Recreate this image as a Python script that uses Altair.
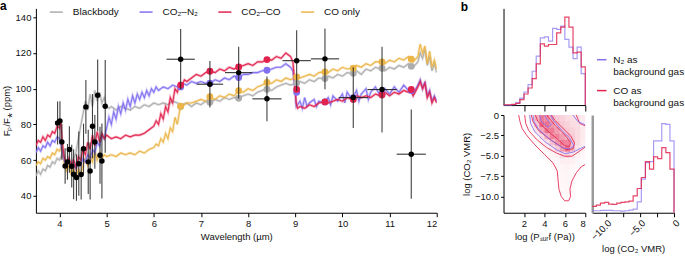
import altair as alt
import pandas as pd

FONT = "Liberation Sans"

# ---------------- panel a ----------------
MODELS = ["Blackbody", "CO₂–N₂", "CO₂–CO", "CO only"]
MODEL_COLORS = ["#adadad", "#8170f0", "#e2234e", "#ebb548"]
DRAW_ORDER = ["Blackbody", "CO only", "CO₂–N₂", "CO₂–CO"]

blackbody = [(3.50,51),(3.55,54),(3.60,52),(3.65,55),(3.70,54),(3.75,57),(3.80,56),(3.85,59),(3.90,58),(3.95,61),(4.00,60),(4.05,63),(4.10,60),(4.15,57),(4.20,61),(4.25,56),(4.30,61),(4.35,64),(4.40,72),(4.45,79),(4.50,86),(4.55,93),(4.60,88),(4.65,97),(4.70,90),(4.75,99),(4.80,93),(4.85,98),(4.90,92),(4.95,95),(5.00,90),(5.05,89),(5.10,90),(5.20,88),(5.30,90),(5.40,89),(5.50,88),(5.60,90),(5.70,89),(5.80,91),(5.90,90),(6.00,92),(6.10,91),(6.20,92),(6.30,91),(6.40,93),(6.50,92),(6.60,91),(6.70,92),(6.80,90),(6.90,92),(7.00,91),(7.10,93),(7.20,92),(7.30,94),(7.40,93),(7.50,95),(7.60,94),(7.70,95),(7.80,95),(7.90,96),(8.00,97),(8.10,96),(8.20,98),(8.30,99),(8.40,100),(8.50,99),(8.60,101),(8.70,102),(8.80,103),(8.90,102),(9.00,103),(9.10,104),(9.20,103),(9.30,105),(9.40,104),(9.50,106),(9.60,105.5),(9.70,107),(9.80,106),(9.90,108),(10.00,107),(10.10,109),(10.20,108.5),(10.30,110),(10.40,108),(10.50,111),(10.60,110),(10.70,112),(10.80,111),(10.90,110),(11.00,112),(11.10,111),(11.20,113),(11.30,112),(11.40,114),(11.50,112),(11.60,115),(11.65,120),(11.70,117),(11.75,122),(11.80,113),(11.85,118),(11.90,110),(11.95,114),(12.00,109)]

co2_n2 = [(3.50,64),(3.55,67),(3.60,65),(3.65,68),(3.70,67),(3.75,70),(3.80,68),(3.85,71),(3.90,70),(3.95,73),(4.00,72),(4.05,66),(4.10,60),(4.15,57),(4.20,60),(4.25,56),(4.30,59),(4.35,55),(4.40,58),(4.45,57),(4.50,61),(4.55,59),(4.60,63),(4.65,61),(4.70,66),(4.75,64),(4.80,70),(4.85,68),(4.90,74),(4.95,72),(5.00,78),(5.05,84),(5.10,80),(5.15,87),(5.20,83),(5.25,90),(5.30,86),(5.35,92),(5.40,88),(5.45,94),(5.50,90),(5.55,96),(5.60,92),(5.65,97),(5.70,94),(5.75,98),(5.80,95),(5.85,99),(5.90,96),(5.95,100),(6.00,98),(6.05,101),(6.10,99),(6.20,101),(6.30,100),(6.40,102),(6.50,101),(6.60,103),(6.70,102),(6.80,104),(6.90,103),(7.00,104),(7.10,103),(7.20,103),(7.30,105),(7.40,104),(7.50,106),(7.60,105),(7.70,107),(7.80,106.3),(7.90,108),(8.00,108),(8.10,109),(8.20,109),(8.30,110),(8.40,110.3),(8.50,111),(8.60,112),(8.70,112),(8.80,114),(8.85,113),(8.90,112),(8.95,110),(9.00,98),(9.02,90),(9.05,91),(9.10,93),(9.15,89),(9.20,95),(9.25,90),(9.30,92),(9.40,94),(9.45,90),(9.50,93),(9.60,92),(9.70,95),(9.75,91),(9.80,96),(9.90,93),(10.00,97),(10.05,92),(10.10,98),(10.20,94),(10.30,99),(10.35,93),(10.40,97),(10.50,100),(10.55,94),(10.60,98),(10.70,101),(10.80,96),(10.90,100),(11.00,97),(11.10,101),(11.20,98),(11.30,102),(11.40,99),(11.50,97),(11.60,102),(11.65,105),(11.70,100),(11.75,104),(11.80,96),(11.85,99),(11.90,93),(11.95,96),(12.00,93)]

co2_co = [(3.50,68),(3.55,71),(3.60,70),(3.65,73),(3.70,71),(3.75,74),(3.80,73),(3.85,76),(3.90,75),(3.95,79),(4.00,78),(4.03,81),(4.06,70),(4.10,62),(4.15,58),(4.20,61),(4.25,57),(4.30,60),(4.35,56),(4.40,62),(4.45,60),(4.50,66),(4.55,63),(4.60,70),(4.65,66),(4.70,74),(4.75,68),(4.80,76),(4.85,70),(4.90,75),(4.95,72),(5.00,74),(5.10,72),(5.20,73),(5.30,72),(5.40,74),(5.50,73),(5.60,74),(5.70,74),(5.80,75),(5.90,77),(6.00,79),(6.05,82),(6.10,80),(6.15,86),(6.20,83),(6.25,90),(6.30,87),(6.35,95),(6.40,92),(6.45,100),(6.50,98),(6.55,103),(6.60,102),(6.65,105),(6.70,104),(6.80,106),(6.90,108),(7.00,107),(7.10,109),(7.20,109.8),(7.30,109),(7.40,111),(7.50,110),(7.60,112),(7.70,111),(7.80,112.2),(7.90,113),(8.00,114),(8.10,113),(8.20,115),(8.30,115),(8.40,116.3),(8.50,116),(8.60,118),(8.70,117),(8.80,120),(8.85,119),(8.90,118),(8.95,115),(9.00,100),(9.02,92),(9.05,89),(9.10,90),(9.20,89),(9.30,91),(9.40,90),(9.50,92),(9.60,92.6),(9.70,92),(9.80,93),(9.90,94),(10.00,93),(10.10,95),(10.20,94),(10.30,96),(10.40,95),(10.50,96),(10.60,95),(10.70,97),(10.80,96),(10.90,98),(11.00,96),(11.10,98),(11.20,97),(11.30,99),(11.40,98),(11.45,99.5),(11.50,96),(11.60,101),(11.65,104),(11.70,100),(11.75,103),(11.80,95),(11.85,98),(11.90,92),(11.95,95),(12.00,92)]

co_only = [(3.50,57),(3.55,59),(3.60,58),(3.65,61),(3.70,60),(3.75,62),(3.80,61),(3.85,64),(3.90,63),(3.95,66),(4.00,65),(4.05,68),(4.10,58),(4.15,54),(4.20,57),(4.25,52),(4.30,56),(4.35,50),(4.40,55),(4.45,52),(4.50,57),(4.55,61),(4.60,57),(4.65,63),(4.70,59),(4.75,65),(4.80,60),(4.85,64),(4.90,61),(4.95,63),(5.00,62),(5.10,63),(5.20,62),(5.30,64),(5.40,63),(5.50,64),(5.60,63),(5.70,65),(5.80,64),(5.90,66),(6.00,67),(6.05,69),(6.10,68),(6.15,72),(6.20,70),(6.25,75),(6.30,72),(6.35,78),(6.40,76),(6.45,84),(6.50,80),(6.55,88),(6.60,90),(6.65,91),(6.70,92),(6.80,92),(6.90,93),(7.00,94),(7.10,93),(7.20,95),(7.30,94),(7.40,96),(7.50,95),(7.60,97),(7.70,96),(7.80,98.5),(7.90,98),(8.00,100),(8.10,99),(8.20,101),(8.30,102),(8.40,103.5),(8.50,103),(8.60,105),(8.70,104),(8.80,106),(8.90,105),(9.00,106.5),(9.10,106),(9.20,107),(9.30,108),(9.40,107),(9.50,109),(9.60,109.4),(9.70,109),(9.80,111),(9.90,110),(10.00,112),(10.10,111),(10.20,111.4),(10.30,113),(10.40,112),(10.50,114),(10.60,113),(10.70,115),(10.80,115),(10.90,114),(11.00,116),(11.10,115),(11.20,117),(11.30,116),(11.40,118),(11.50,115),(11.60,118),(11.65,125),(11.70,120),(11.75,124),(11.80,114),(11.85,121),(11.90,112),(11.95,116),(12.00,111)]

BIN_WL = [6.57, 7.19, 7.80, 8.40, 9.03, 9.63, 10.23, 10.84, 11.46]
bin_blackbody = [90, 92.4, 94.6, 99.7, 103.2, 105.7, 108.6, 111.4, 112.5]
bin_co_only = [90.2, 95.5, 98.8, 103.5, 106.6, 109.4, 111.4, 115, 116.5]
bin_co2_n2 = [101, 103, 106.3, 110.3, 98, 92.6, 95, 97, 99]
bin_co2_co = [102, 109.8, 112.2, 116.3, 99.6, 92.6, 94, 96.5, 99.5]

OBS_WL = [3.96, 4.01, 4.05, 4.12, 4.17, 4.21, 4.26, 4.30, 4.36, 4.41, 4.46, 4.51, 4.56, 4.61, 4.65, 4.70, 4.75, 4.81, 4.86, 4.90, 4.97,
          6.57, 7.19, 7.80, 8.40, 9.03, 9.63, 10.23, 10.84, 11.46]
OBS_FP = [80.8, 81.9, 70.2, 56.7, 59.0, 65.9, 56.6, 52.1, 50.2, 58.0, 51.9, 66.4, 89.8, 59.0, 53.9, 79.0, 70.2, 96.3, 62.7, 59.5, 90.1,
          116.5, 102.5, 109.0, 94.3, 115.7, 116.7, 95.0, 99.5, 63.3]
OBS_XERR = [0] * 21 + [0.30, 0.28, 0.29, 0.31, 0.30, 0.30, 0.31, 0.31, 0.31]
OBS_YERR = [12, 11, 10, 10, 10, 13, 12, 14, 13, 18, 14, 14, 15, 18, 16, 18, 15, 20, 16, 21, 26,
            17, 13, 14.5, 12.5, 17, 17, 17, 24, 25]

# ---------------- panel b ----------------
GASES = ["N₂ as|background gas", "CO as|background gas"]
GAS_COLORS = ["#8170f0", "#e2234e"]

PSURF_EDGES = [0.0, 0.4, 0.8, 1.2, 1.6, 2.0, 2.4, 2.8, 3.2, 3.6, 4.0, 4.4, 4.8, 5.2, 5.6, 6.0, 6.4, 6.8, 7.2, 7.6, 8.0]
psurf_n2 = [0, 0, 1, 7, 21, 39, 61, 101, 146, 201, 204, 191, 229, 226, 236, 196, 173, 139, 173, 94]
psurf_co = [1, 1, 2, 5, 16, 33, 51, 79, 123, 183, 176, 181, 181, 216, 233, 263, 233, 156, 158, 114]

VMR_EDGES = [-12.0, -11.4, -10.8, -10.2, -9.6, -9.0, -8.4, -7.8, -7.2, -6.6, -6.0, -5.4, -4.8, -4.2, -3.6, -3.0, -2.4, -1.8, -1.2, -0.6, 0.0]
vmr_n2 = [6, 6, 7, 7, 7, 6, 6, 5, 6, 8, 11, 33, 101, 151, 154, 216, 216, 268, 266, 216]
vmr_co = [19, 23, 29, 31, 26, 25, 29, 31, 33, 35, 51, 73, 106, 154, 131, 168, 163, 196, 181, 131]

HEAT_X0 = [0.0, 0.5, 1.0, 1.5, 2.0, 2.5, 3.0, 3.5, 4.0, 4.5, 5.0, 5.5, 6.0, 6.5, 7.0, 7.5]
HEAT_Y0 = [0.0, -0.75, -1.5, -2.25, -3.0, -3.75, -4.5, -5.25, -6.0, -6.75, -7.5, -8.25, -9.0, -9.75, -10.5, -11.25]
HEAT = [
    [0, 0, 0, 0, 0.02, 0.10, 0.45, 0.75, 0.65, 0.45, 0.30, 0.25, 0.20, 0.18, 0.15, 0.12],
    [0, 0, 0, 0, 0.02, 0.08, 0.30, 0.85, 0.80, 0.60, 0.40, 0.30, 0.25, 0.20, 0.18, 0.12],
    [0, 0, 0, 0, 0, 0.05, 0.15, 0.50, 0.80, 0.75, 0.55, 0.35, 0.30, 0.25, 0.20, 0.12],
    [0, 0, 0, 0, 0, 0.02, 0.06, 0.20, 0.45, 0.70, 0.70, 0.55, 0.40, 0.30, 0.20, 0.12],
    [0, 0, 0, 0, 0, 0, 0.03, 0.08, 0.15, 0.35, 0.60, 0.75, 0.70, 0.35, 0.20, 0.10],
    [0, 0, 0, 0, 0, 0, 0, 0.04, 0.08, 0.12, 0.30, 0.55, 0.80, 0.40, 0.15, 0.08],
    [0, 0, 0, 0, 0, 0, 0, 0.02, 0.04, 0.06, 0.10, 0.20, 0.25, 0.15, 0.08, 0.05],
    [0, 0, 0, 0, 0, 0, 0, 0, 0.02, 0.04, 0.05, 0.10, 0.10, 0.08, 0.05, 0.03],
    [0, 0, 0, 0, 0, 0, 0, 0, 0, 0.02, 0.04, 0.06, 0.07, 0.05, 0.03, 0.02],
    [0, 0, 0, 0, 0, 0, 0, 0, 0, 0, 0.03, 0.05, 0.06, 0.04, 0.02, 0],
    [0, 0, 0, 0, 0, 0, 0, 0, 0, 0, 0.03, 0.05, 0.06, 0.04, 0.02, 0],
    [0, 0, 0, 0, 0, 0, 0, 0, 0, 0, 0, 0.04, 0.05, 0.04, 0, 0],
    [0, 0, 0, 0, 0, 0, 0, 0, 0, 0, 0, 0.04, 0.05, 0.03, 0, 0],
    [0, 0, 0, 0, 0, 0, 0, 0, 0, 0, 0, 0, 0.04, 0.03, 0, 0],
    [0, 0, 0, 0, 0, 0, 0, 0, 0, 0, 0, 0, 0, 0, 0, 0],
    [0, 0, 0, 0, 0, 0, 0, 0, 0, 0, 0, 0, 0, 0, 0, 0],
]

co_contour_1 = [(1.48,0),(1.61,-0.81),(1.81,-1.62),(2.23,-2.43),(3.05,-3.64),(4.02,-4.86),(4.84,-5.87),(5.26,-6.88),(5.33,-7.89),(5.42,-9.11),(5.65,-10.0),(5.98,-10.53),(6.37,-10.53),(6.56,-10.0),(6.5,-9.11),(6.69,-8.1),(7.12,-7.09),(7.6,-6.36),(8.0,-6.07)]
co_contour_2 = [(2.07,0),(2.17,-1.01),(2.46,-1.9),(3.21,-2.96),(4.19,-3.97),(5.16,-4.66),(5.98,-5.06),(6.69,-5.06),(7.28,-4.57),(8.0,-3.93)]
co_contour_3 = [(2.72,0),(2.88,-0.81),(3.37,-1.82),(4.35,-2.83),(5.33,-3.64),(6.14,-4.25),(6.79,-4.17),(6.95,-3.44),(6.56,-2.55),(5.81,-1.62),(5.0,-0.61),(4.67,0)]
co_contour_4 = [(3.11,0),(3.37,-0.81),(4.19,-1.82),(5.16,-2.83),(5.98,-3.77),(6.47,-3.85),(6.56,-3.36),(5.98,-2.43),(5.0,-1.21),(4.35,-0.2),(4.29,0)]
co_contour_5 = [(7.12,0),(7.44,-1.01),(8.0,-1.34)]
n2_contour_1 = [(2.56,0),(2.65,-1.01),(3.05,-2.02),(4.02,-3.24),(5.16,-4.25),(5.98,-4.74),(6.79,-4.57),(7.6,-4.05),(8.0,-3.85)]
n2_contour_2 = [(2.88,0),(2.98,-0.81),(3.53,-1.9),(4.67,-3.12),(5.81,-4.05),(6.47,-4.17),(6.89,-3.77),(6.47,-2.83),(5.65,-1.82),(4.84,-0.61),(4.61,0)]
n2_contour_3 = [(3.53,0),(3.7,-0.81),(4.35,-1.5),(4.67,-1.21),(4.19,-0.4),(4.02,0)]
n2_contour_4 = [(6.79,0),(7.28,-0.81),(8.0,-1.21)]

# ================= build panel a =================
series = {"Blackbody": blackbody, "CO₂–N₂": co2_n2, "CO₂–CO": co2_co, "CO only": co_only}
bins = {"Blackbody": bin_blackbody, "CO₂–N₂": bin_co2_n2, "CO₂–CO": bin_co2_co, "CO only": bin_co_only}

color_a = alt.Color(
    "model:N",
    scale=alt.Scale(domain=MODELS, range=MODEL_COLORS),
    legend=alt.Legend(
        orient="none", legendX=13, legendY=-4, direction="horizontal", columns=4,
        title=None, symbolType="stroke", symbolSize=170, symbolStrokeWidth=1.5, symbolOpacity=1,
        labelFontSize=10, labelOffset=9, columnPadding=16, padding=0,
    ),
)
xs = alt.Scale(domain=[3.5, 12], nice=False, zero=False)
ys = alt.Scale(domain=[30.5, 145], nice=False, zero=False)
xaxis = alt.Axis(values=[4, 5, 6, 7, 8, 9, 10, 11, 12], title="Wavelength (µm)", format="d",
                 tickSize=4, labelPadding=2, titlePadding=3)
yaxis = alt.Axis(values=[40, 60, 80, 100, 120, 140], title="Fₚ/F⁎ (ppm)",
                 tickSize=3, labelPadding=2, titlePadding=4)

layers = []
for name in DRAW_ORDER:
    df = pd.DataFrame(series[name], columns=["wl", "fp"])
    df["model"] = name
    base = alt.Chart(df).encode(
        x=alt.X("wl:Q", scale=xs, axis=xaxis),
        y=alt.Y("fp:Q", scale=ys, axis=yaxis),
        color=color_a,
    )
    # soft wide band under a thin line, as in the high-resolution model spectra
    layers.append(base.mark_line(strokeWidth=2.6, opacity=0.35, clip=True))
    layers.append(base.mark_line(strokeWidth=1.1, opacity=0.95, clip=True))

dot_rows = []
for name in DRAW_ORDER:
    for wl, v in zip(BIN_WL, bins[name]):
        dot_rows.append({"wl": wl, "fp": v, "model": name})
dots = alt.Chart(pd.DataFrame(dot_rows)).mark_circle(size=48, opacity=1).encode(
    x=alt.X("wl:Q", scale=xs, axis=xaxis), y=alt.Y("fp:Q", scale=ys, axis=yaxis), color=color_a
)

obs = pd.DataFrame({"wl": OBS_WL, "fp": OBS_FP, "xe": OBS_XERR, "ye": OBS_YERR})
obs["lo"] = obs.fp - obs.ye
obs["hi"] = obs.fp + obs.ye
obs["wlo"] = obs.wl - obs.xe
obs["whi"] = obs.wl + obs.xe
obs_long = obs[obs.xe > 0]

vbars = alt.Chart(obs).mark_rule(color="#1e1e1e", strokeWidth=1.1, opacity=0.85).encode(
    x=alt.X("wl:Q", scale=xs, axis=xaxis), y=alt.Y("lo:Q", scale=ys, axis=yaxis), y2="hi:Q"
)
hbars = alt.Chart(obs_long).mark_rule(color="#1e1e1e", strokeWidth=1.1, opacity=0.9).encode(
    x=alt.X("wlo:Q", scale=xs, axis=xaxis), x2="whi:Q", y=alt.Y("fp:Q", scale=ys, axis=yaxis)
)
pts = alt.Chart(obs).mark_circle(size=30, color="black", opacity=1).encode(
    x=alt.X("wl:Q", scale=xs, axis=xaxis), y=alt.Y("fp:Q", scale=ys, axis=yaxis)
)
label_a = alt.Chart(pd.DataFrame({"t": ["a"]})).mark_text(
    align="left", baseline="top", fontSize=12, fontWeight="bold", color="black"
).encode(text="t:N", x=alt.value(-36), y=alt.value(-7))

panel_a = alt.layer(*layers, dots, vbars, hbars, pts, label_a).properties(width=402, height=205)

# ================= build panel b =================
gas_scale = alt.Scale(domain=GASES, range=GAS_COLORS)


def step_df(edges, counts, gas):
    rows = [(edges[i], counts[i]) for i in range(len(counts))]
    rows.append((edges[-1], counts[-1]))
    rows.append((edges[-1], 0))
    return pd.DataFrame([{"x": x, "v": v, "idx": i, "gas": gas} for i, (x, v) in enumerate(rows)])


# top histogram: log Psurf
ps_x = alt.Scale(domain=[0, 8], nice=False, zero=False)
top_layers = []
for gas, counts, op in [(GASES[0], psurf_n2, 0.7), (GASES[1], psurf_co, 0.85)]:
    top_layers.append(
        alt.Chart(step_df(PSURF_EDGES, counts, gas)).mark_line(
            interpolate="step-after", strokeWidth=1.2, opacity=op
        ).encode(
            x=alt.X("x:Q", scale=ps_x, axis=alt.Axis(values=[2, 4, 6, 8], labels=False, tickSize=6, title=None)),
            y=alt.Y("v:Q", scale=alt.Scale(domain=[0, 289], nice=False),
                    axis=alt.Axis(ticks=False, labels=False, title=None)),
            order="idx:Q",
            color=alt.Color("gas:N", scale=gas_scale, legend=alt.Legend(
                orient="none", legendX=93, legendY=46, title=None, symbolType="stroke",
                symbolSize=90, symbolStrokeWidth=1.5, symbolOpacity=1, labelExpr="split(datum.label, '|')",
                labelFontSize=10, labelOffset=6, rowPadding=8, padding=0,
            )),
        )
    )
label_b = alt.Chart(pd.DataFrame({"t": ["b"]})).mark_text(
    align="left", baseline="top", fontSize=12, fontWeight="bold", color="black"
).encode(text="t:N", x=alt.value(-43), y=alt.value(-6))
top_hist = alt.layer(*top_layers, label_b).properties(width=82, height=97)

# density panel
heat_rows = []
for r, y0 in enumerate(HEAT_Y0):
    for c, x0 in enumerate(HEAT_X0):
        heat_rows.append({"x0": x0, "x1": x0 + 0.5, "y0": y0, "y1": y0 - 0.75, "d": HEAT[r][c]})
heat_df = pd.DataFrame(heat_rows)
vmr_y = alt.Scale(domain=[-12, 0], nice=False, zero=False)
fmt_expr = "datum.value == 0 ? '0' : format(datum.value, '.1f')"
dx_axis = alt.Axis(values=[2, 4, 6, 8], title="log (Pₛᵤᵣf (Pa))", tickSize=4, labelPadding=2, titlePadding=3)
dy_axis = alt.Axis(values=[0, -2.5, -5, -7.5, -10], labelExpr=fmt_expr, title="log (CO₂ VMR)",
                   tickSize=3, labelPadding=2, titlePadding=3)
heat = alt.Chart(heat_df).mark_rect(color="#e2234e", strokeWidth=0).encode(
    x=alt.X("x0:Q", scale=ps_x, axis=dx_axis), x2="x1:Q",
    y=alt.Y("y0:Q", scale=vmr_y, axis=dy_axis), y2="y1:Q",
    opacity=alt.Opacity("d:Q", scale=alt.Scale(domain=[0, 1], range=[0, 0.8]), legend=None),
)
contours = [
    (GASES[1], co_contour_1), (GASES[1], co_contour_2), (GASES[1], co_contour_3),
    (GASES[1], co_contour_4), (GASES[1], co_contour_5),
    (GASES[0], n2_contour_1), (GASES[0], n2_contour_2), (GASES[0], n2_contour_3), (GASES[0], n2_contour_4),
]
cont_rows = []
for cid, (gas, pts_list) in enumerate(contours):
    for i, (x, y) in enumerate(pts_list):
        cont_rows.append({"cid": cid, "gas": gas, "idx": i, "x0": x, "y0": y})
cont = alt.Chart(pd.DataFrame(cont_rows)).mark_line(strokeWidth=1, opacity=0.85, clip=True).encode(
    x=alt.X("x0:Q", scale=ps_x, axis=dx_axis), y=alt.Y("y0:Q", scale=vmr_y, axis=dy_axis),
    detail="cid:N", order="idx:Q",
    color=alt.Color("gas:N", scale=gas_scale, legend=None),
)
density = alt.layer(heat, cont).properties(width=82, height=98)

# right histogram: log CO2 VMR
vmr_x = alt.Scale(domain=[-12, 0], nice=False, zero=False)
right_layers = []
for gas, counts, op in [(GASES[0], vmr_n2, 0.7), (GASES[1], vmr_co, 0.85)]:
    right_layers.append(
        alt.Chart(step_df(VMR_EDGES, counts, gas)).mark_line(
            interpolate="step-after", strokeWidth=1.2, opacity=op
        ).encode(
            x=alt.X("x:Q", scale=vmr_x, axis=alt.Axis(
                values=[-10, -7.5, -5, -2.5, 0], labelExpr=fmt_expr, labelAngle=-45,
                title="log (CO₂ VMR)", tickSize=4, labelPadding=1, titlePadding=2)),
            y=alt.Y("v:Q", scale=alt.Scale(domain=[0, 294], nice=False),
                    axis=alt.Axis(ticks=False, labels=False, title=None, domainColor="#9a9a9a", domainWidth=2.5)),
            order="idx:Q",
            color=alt.Color("gas:N", scale=gas_scale, legend=None),
        )
    )
right_hist = alt.layer(*right_layers).properties(width=82, height=98)

bottom_row = alt.hconcat(density, right_hist, spacing=7, bounds="flush").resolve_scale(color="independent")
panel_b = alt.vconcat(top_hist, bottom_row, spacing=10, bounds="flush").resolve_scale(color="independent")

chart = (
    alt.hconcat(panel_a, panel_b, spacing=67, bounds="flush")
    .resolve_scale(color="independent")
    .properties(padding={"left": 0, "top": 0, "right": 0, "bottom": 0})
    .configure(font=FONT)
    .configure_view(stroke=None)
    .configure_axis(grid=False, domainColor="#000", tickColor="#000", labelColor="#111", titleColor="#111",
                    labelFontSize=9.5, titleFontSize=9.5, titleFontWeight="normal", domainWidth=1, tickWidth=1)
    .configure_legend(labelColor="#111", labelFontSize=10)
)

chart.save("out.html", embed_options={"renderer": "svg", "actions": False})
